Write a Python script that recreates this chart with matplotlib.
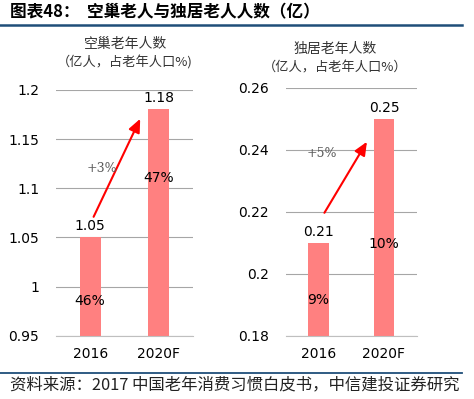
import matplotlib.pyplot as plt
from matplotlib.lines import Line2D

plt.rcParams['font.family'] = ['DejaVu Sans', 'Noto Sans CJK SC']

years = ['2016', '2020F']
empty_nest = [1.05, 1.18]
empty_share = ['46%', '47%']
alone = [0.21, 0.25]
alone_share = ['9%', '10%']

bar_color = '#FF8080'
cjk = ['Noto Sans CJK SC', 'DejaVu Sans']

fig = plt.figure(figsize=(4.74, 3.99), dpi=100)

# title and rules
fig.text(0.021, 0.968, '图表48：  空巢老人与独居老人人数（亿）', family=cjk,
         fontsize=12, fontweight='bold', va='center', ha='left')
fig.add_artist(Line2D([0, 0.975], [0.937, 0.937], color='#1F4E79', lw=1.8))
fig.add_artist(Line2D([0, 0.975], [0.065, 0.065], color='#1F4E79', lw=1.3))
fig.text(0.021, 0.035, '资料来源：2017 中国老年消费习惯白皮书，中信建投证券研究',
         family=cjk, fontsize=11.8, va='center', ha='left', color='#222222')


def draw(ax, vals, shares, ylim, step, arrow, pct, pct_pos, share_y):
    x = range(len(years))
    ax.bar(x, vals, width=0.31, color=bar_color, zorder=2)
    ax.set_xlim(-0.5, 1.5)
    ax.set_ylim(*ylim)
    ticks = []
    t = ylim[0]
    while t <= ylim[1] + 1e-9:
        ticks.append(round(t, 4))
        t += step
    ax.set_yticks(ticks)
    ax.set_yticklabels(['{:g}'.format(v) for v in ticks], fontsize=10)
    ax.set_xticks(list(x))
    ax.set_xticklabels(years, fontsize=10)
    ax.grid(axis='y', color='#A6A6A6', lw=0.8, zorder=0)
    for s in ['top', 'right', 'left']:
        ax.spines[s].set_visible(False)
    ax.spines['bottom'].set_color('#BFBFBF')
    ax.tick_params(length=0, pad=8)
    ax.tick_params(axis='y', pad=12)
    for i, v in enumerate(vals):
        ax.annotate('{:g}'.format(v), (i, v), xytext=(0, 3), textcoords='offset points',
                    ha='center', va='bottom', fontsize=10)
        ax.text(i, share_y[i], shares[i], ha='center', va='center', fontsize=10)
    ax.annotate('', xy=arrow[1], xytext=arrow[0],
                arrowprops=dict(arrowstyle='-|>,head_length=0.8,head_width=0.35',
                                color='red', lw=1.5, shrinkA=0, shrinkB=0))
    ax.text(pct_pos[0], pct_pos[1], pct, ha='center', va='center', fontsize=9,
            color='#595959', family=['DejaVu Serif'])


ax1 = fig.add_axes([0.118, 0.158, 0.289, 0.617])
draw(ax1, empty_nest, empty_share, (0.95, 1.2), 0.05,
     ((0.05, 1.071), (0.73, 1.1705)), '+3%', (0.17, 1.12), (0.985, 1.11))
fig.text(0.264, 0.890, '空巢老年人数', family=cjk, fontsize=10, ha='center', va='center', color='#333333')
fig.text(0.264, 0.843, '（亿人，占老年人口%)', family=cjk, fontsize=9.5, ha='center', va='center', color='#333333')

ax2 = fig.add_axes([0.603, 0.158, 0.276, 0.622])
draw(ax2, alone, alone_share, (0.18, 0.26), 0.02,
     ((0.09, 0.2197), (0.74, 0.2426)), '+5%', (0.05, 0.2389), (0.1915, 0.2095))
fig.text(0.707, 0.877, '独居老年人数', family=cjk, fontsize=10, ha='center', va='center', color='#333333')
fig.text(0.707, 0.830, '（亿人，占老年人口%）', family=cjk, fontsize=9.5, ha='center', va='center', color='#333333')

fig.savefig('out.png', dpi=100)
